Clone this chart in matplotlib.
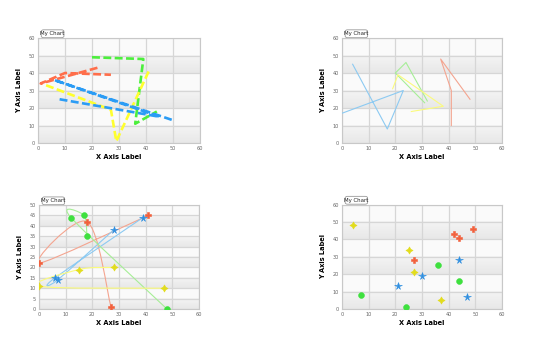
import numpy as np
import matplotlib
matplotlib.use("Agg")
import matplotlib.pyplot as plt
from matplotlib.path import Path
from matplotlib.patches import PathPatch, FancyBboxPatch
from matplotlib.colors import LinearSegmentedColormap

# chart 1: dashed lines
tl_orange_x = [22, 1, 10, 27]
tl_orange_y = [43, 34, 40, 39]
tl_green_x = [20, 39, 36, 44]
tl_green_y = [49, 48, 11, 18]
tl_yellow_x = [3, 27, 29, 41]
tl_yellow_y = [33, 19, 1, 41]
tl_blue_x = [8, 45, 6, 50]
tl_blue_y = [25, 15, 36, 13]

# chart 2: thin lines
tr_blue_x = [0, 23, 17, 4]
tr_blue_y = [17, 30, 8, 45]
tr_green_x = [31, 20, 24, 32]
tr_green_y = [23, 40, 46, 24]
tr_yellow_x = [19, 21, 38, 26]
tr_yellow_y = [31, 39, 21, 18]
tr_orange_x = [41, 41, 37, 48]
tr_orange_y = [10, 30, 48, 25]

# chart 3: splines with markers
bl_orange_x = [41, 0, 18, 27]
bl_orange_y = [45, 22, 42, 1]
bl_blue_x = [39, 6, 7, 28]
bl_blue_y = [44, 15, 14, 38]
bl_green_x = [48, 12, 17, 18]
bl_green_y = [0, 44, 45, 35]
bl_yellow_x = [47, 0, 15, 28]
bl_yellow_y = [10, 11, 19, 20]

# chart 4: scatter
br_yellow_x = [4, 25, 27, 37]
br_yellow_y = [48, 34, 21, 5]
br_blue_x = [21, 30, 44, 47]
br_blue_y = [13, 19, 28, 7]
br_green_x = [7, 24, 36, 44]
br_green_y = [8, 1, 25, 16]
br_orange_x = [42, 44, 49, 27]
br_orange_y = [43, 41, 46, 28]

ORANGE, GREEN, YELLOW, BLUE = "#ff6e4a", "#4cef3c", "#ffff2e", "#2b9cf5"
L_ORANGE, L_GREEN, L_YELLOW, L_BLUE = "#f4a48f", "#a6ee96", "#fbfb7c", "#8ccaf2"
M_ORANGE, M_GREEN, M_YELLOW, M_BLUE = "#f2603c", "#3ee03e", "#e2dc1c", "#2f8fe0"

band_cmap = LinearSegmentedColormap.from_list("band", ["#f4f4f4", "#e8e8e8"])


def setup(ax, ymax, ystep):
    ax.set_xticks(range(0, 61, 10))
    ax.set_yticks(np.arange(0, ymax + 1, ystep))
    ax.set_facecolor("#fafafa")
    edges = np.arange(0, ymax, ystep)
    grad = np.linspace(0, 1, 50).reshape(-1, 1)
    for i, y0 in enumerate(edges):
        if i % 2 == 0:
            ax.imshow(grad, extent=[0, 60, y0, y0 + ystep], aspect="auto",
                      cmap=band_cmap, origin="upper", zorder=0)
    ax.set_xlim(0, 60)
    ax.set_ylim(0, ymax)
    ax.grid(True, color="#d6d6d6", lw=0.9, zorder=1)
    ax.set_axisbelow(True)
    for s in ax.spines.values():
        s.set_color("#c8c8c8")
        s.set_linewidth(0.8)
    ax.tick_params(length=0, labelsize=3.6, colors="#666666", pad=2)
    ax.set_xlabel("X Axis Label", fontsize=4.8, fontweight="bold", labelpad=2)
    ax.set_ylabel("Y Axis Label", fontsize=4.8, fontweight="bold", labelpad=5)
    # "My Chart" tab
    tab = FancyBboxPatch((0.02, 1.003), 0.14, 0.075, boxstyle="round,pad=0,rounding_size=0.015",
                         transform=ax.transAxes, fc="white", ec="#999999", lw=0.6, clip_on=False)
    ax.add_patch(tab)
    ax.text(0.09, 1.04, "My Chart", transform=ax.transAxes, fontsize=3.9,
            ha="center", va="center", color="#222222")


def spline(ax, xs, ys, color):
    pts = np.column_stack([xs, ys]).astype(float)
    ext = np.vstack([pts[0], pts, pts[-1]])
    verts = [pts[0]]
    codes = [Path.MOVETO]
    for i in range(1, len(ext) - 2):
        p0, p1, p2, p3 = ext[i - 1], ext[i], ext[i + 1], ext[i + 2]
        verts += [p1 + (p2 - p0) / 6, p2 - (p3 - p1) / 6, p2]
        codes += [Path.CURVE4] * 3
    ax.add_patch(PathPatch(Path(verts, codes), fc="none", ec=color, lw=0.8, zorder=3))


fig = plt.figure(figsize=(5.4, 3.5), dpi=100)

ax1 = fig.add_axes([0.0704, 0.5914, 0.3, 0.3])
setup(ax1, 60, 10)
for x, y, c in [(tl_orange_x, tl_orange_y, ORANGE), (tl_green_x, tl_green_y, GREEN),
                (tl_yellow_x, tl_yellow_y, YELLOW), (tl_blue_x, tl_blue_y, BLUE)]:
    ln, = ax1.plot(x, y, color=c, lw=1.9, zorder=3, solid_capstyle="butt")
    ln.set_dashes((3.0, 1.3))

ax2 = fig.add_axes([0.6333, 0.5914, 0.2963, 0.3])
setup(ax2, 60, 10)
for x, y, c in [(tr_blue_x, tr_blue_y, L_BLUE), (tr_green_x, tr_green_y, L_GREEN),
                (tr_yellow_x, tr_yellow_y, L_YELLOW), (tr_orange_x, tr_orange_y, L_ORANGE)]:
    ax2.plot(x, y, color=c, lw=0.8, zorder=3)

ax3 = fig.add_axes([0.0722, 0.1171, 0.2963, 0.2971])
setup(ax3, 50, 5)
for x, y, lc, mc, m, ms in [(bl_orange_x, bl_orange_y, L_ORANGE, M_ORANGE, "P", 4.6),
                            (bl_blue_x, bl_blue_y, L_BLUE, M_BLUE, "*", 5.4),
                            (bl_green_x, bl_green_y, L_GREEN, M_GREEN, "o", 4.2),
                            (bl_yellow_x, bl_yellow_y, L_YELLOW, M_YELLOW, (4, 1, 0), 5.2)]:
    spline(ax3, x, y, lc)
    ax3.plot(x, y, ls="none", marker=m, ms=ms, color=mc, mec=mc, mew=0.4, zorder=4)

ax4 = fig.add_axes([0.6333, 0.1171, 0.2963, 0.2986])
setup(ax4, 60, 10)
for x, y, mc, m, ms in [(br_yellow_x, br_yellow_y, M_YELLOW, (4, 1, 0), 5.2),
                        (br_blue_x, br_blue_y, M_BLUE, "*", 5.4),
                        (br_green_x, br_green_y, M_GREEN, "o", 4.2),
                        (br_orange_x, br_orange_y, M_ORANGE, "P", 4.6)]:
    ax4.plot(x, y, ls="none", marker=m, ms=ms, color=mc, mec=mc, mew=0.4, zorder=4)

fig.savefig("out.png", dpi=100)
